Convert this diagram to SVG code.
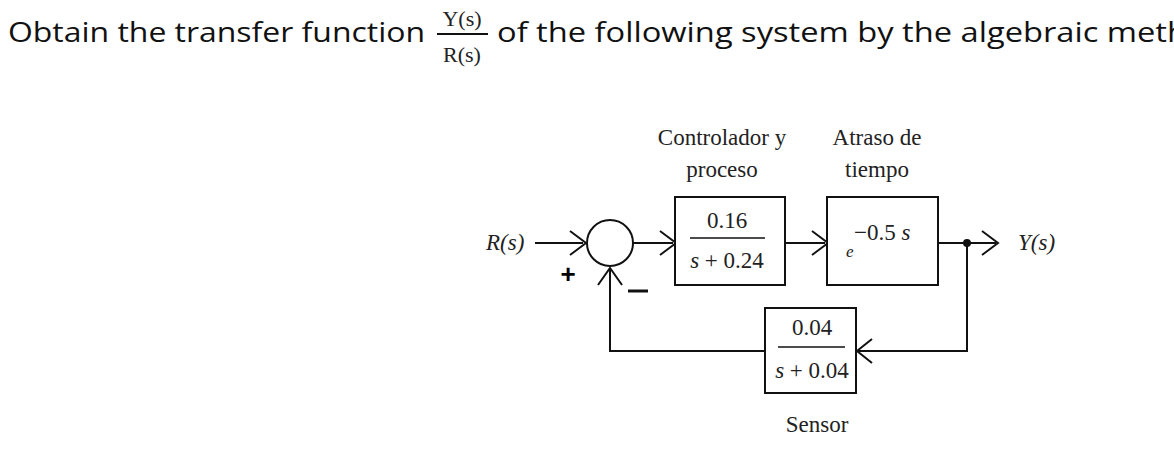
<svg xmlns="http://www.w3.org/2000/svg" width="1174" height="455" viewBox="0 0 1174 455">
<style>
.t{font-family:"Liberation Serif",serif;font-size:23px;fill:#222}
.i{font-style:italic}
.b{fill:#fff;stroke:#111;stroke-width:2}
.l{stroke:#111;stroke-width:2;fill:none}
.h{font-family:"Open Sans","DejaVu Sans",sans-serif;font-size:28px;fill:#111}
</style>
<rect width="1174" height="455" fill="#fff"/>
<g id="title">
<text class="h" x="8" y="42" textLength="417" lengthAdjust="spacingAndGlyphs">Obtain the transfer function</text>
<text class="t" x="462" y="26" text-anchor="middle" style="font-size:22px">Y(s)</text>
<line x1="437" y1="34" x2="488" y2="34" stroke="#111" stroke-width="2"/>
<text class="t" x="462" y="62" text-anchor="middle" style="font-size:22px">R(s)</text>
<text class="h" x="497" y="42" textLength="690" lengthAdjust="spacingAndGlyphs">of the following system by the algebraic meth</text>
</g>
<g id="connectors" class="l">
<path d="M535 243H583M570 231L586 243L570 255"/>
<path d="M633 243H673M660 231L676 243L660 255"/>
<path d="M786 243H825M812 231L828 243L812 255"/>
<path d="M938 243H996M982 231L998 243L982 255"/>
<path d="M967 243V351H857M872 339L857 351L872 363"/>
<path d="M765 351H610V269M598 285L610 268L622 285"/>
<circle cx="967" cy="243" r="3" fill="#111"/>
</g>
<g id="sum"><circle class="b" cx="610" cy="243" r="23"/>
<text x="568" y="283" font-family="Liberation Sans,sans-serif" font-size="26" font-weight="bold" text-anchor="middle">+</text>
<line x1="628" y1="291" x2="648" y2="291" stroke="#111" stroke-width="3"/></g>
<g id="in"><text class="t i" x="486" y="250">R(s)</text></g>
<g id="out"><text class="t i" x="1018" y="250">Y(s)</text></g>
<g id="ctrl">
<text class="t" x="722" y="145" text-anchor="middle">Controlador y</text>
<text class="t" x="722" y="177" text-anchor="middle">proceso</text>
<rect class="b" x="675" y="197" width="110" height="88"/>
<text class="t" x="727" y="228" text-anchor="middle">0.16</text>
<line x1="690" y1="238" x2="765" y2="238" stroke="#111" stroke-width="1.5"/>
<text class="t" x="727" y="268" text-anchor="middle"><tspan class="i">s</tspan> + 0.24</text>
</g>
<g id="delay">
<text class="t" x="877" y="145" text-anchor="middle">Atraso de</text>
<text class="t" x="877" y="177" text-anchor="middle">tiempo</text>
<rect class="b" x="827" y="197" width="111" height="88"/>
<text class="t i" x="846" y="257" style="font-size:17px">e</text>
<text class="t" x="854" y="240">−0.5 <tspan class="i">s</tspan></text>
</g>
<g id="sensor">
<rect class="b" x="765" y="308" width="91" height="85"/>
<text class="t" x="812" y="335" text-anchor="middle">0.04</text>
<line x1="778" y1="347" x2="845" y2="347" stroke="#111" stroke-width="1.5"/>
<text class="t" x="812" y="378" text-anchor="middle"><tspan class="i">s</tspan> + 0.04</text>
<text class="t" x="817" y="432" text-anchor="middle">Sensor</text>
</g>
</svg>
